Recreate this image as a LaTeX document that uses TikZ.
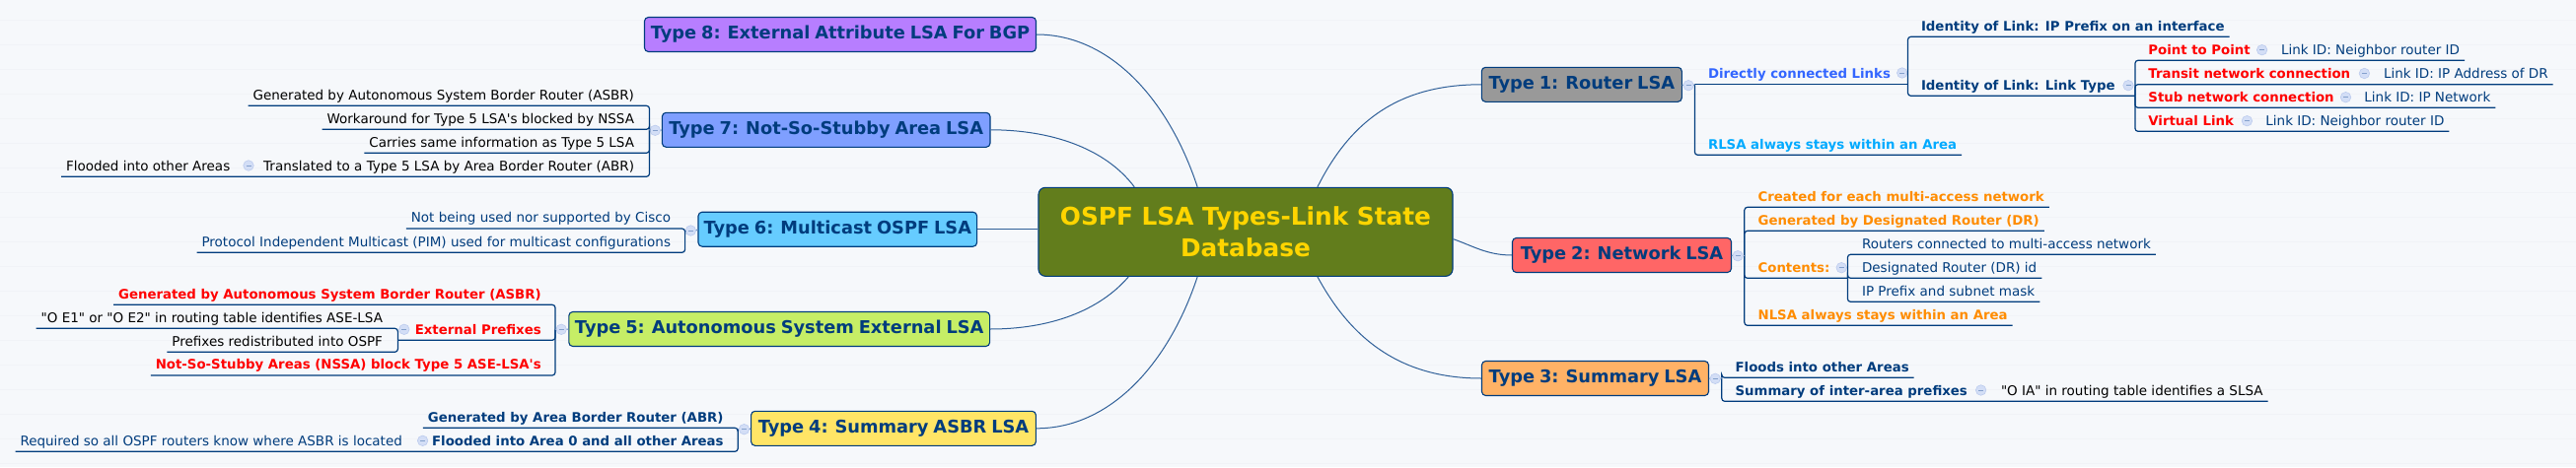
\documentclass[tikz,border=0pt]{standalone}
\usepackage{fontspec}
\usepackage{tikz}
\setmainfont{DejaVu Sans}[Ligatures=TeXOff]
\definecolor{pagebg}{HTML}{F6F8FB}
\definecolor{pageline}{HTML}{F1F3F7}
\definecolor{navy}{HTML}{003C7D}
\definecolor{curveblue}{HTML}{2F5F98}
\definecolor{foldfill}{HTML}{D3DEF6}
\definecolor{folddraw}{HTML}{BCCBEE}
\definecolor{rootgreen}{HTML}{627D1C}
\definecolor{rootyellow}{HTML}{FFD500}
\definecolor{linkblue}{HTML}{3366FF}
\definecolor{skyblue}{HTML}{00AAFF}
\definecolor{leaforange}{HTML}{FF8C00}
\definecolor{t8col}{HTML}{B77EFF}
\definecolor{t7col}{HTML}{7F9FFF}
\definecolor{t6col}{HTML}{66CCFF}
\definecolor{t5col}{HTML}{C6EE66}
\definecolor{t4col}{HTML}{FFE566}
\definecolor{t3col}{HTML}{FFB266}
\definecolor{t2col}{HTML}{FF6666}
\definecolor{t1col}{HTML}{999999}
\newcommand{\topicfont}{\fontsize{17.8}{21}\selectfont\bfseries\spaceskip 0.275em\relax}

\begin{document}
\begin{tikzpicture}[x=1pt, y=-1pt,
			topic/.style = {shape=rectangle, draw=navy, line width=1.1pt,
				rounded corners=4pt, minimum height=35pt, inner sep=0pt,
				text=navy, font=\topicfont},
			rootnode/.style = {shape=rectangle, draw=navy, line width=1.1pt,
				rounded corners=7pt, minimum width=420pt, minimum height=90pt,
				fill=rootgreen, align=center, text=rootyellow,
				font=\fontsize{24.8}{31.5}\selectfont\bfseries},
			leaf/.style = {shape=rectangle, inner xsep=5pt, inner ysep=0pt, outer sep=0pt,
				text height=12pt, text depth=6.3pt, font=\fontsize{13.5}{15}\selectfont},
			lleaf/.style = {leaf, anchor=south east},
			rleaf/.style = {leaf, anchor=south west},
			boldleaf/.style = {font=\fontsize{13.3}{15}\selectfont\bfseries},
			black leaf/.style = {text=black},
			navy leaf/.style = {text=navy},
			navy bold/.style = {boldleaf, text=navy},
			red bold/.style = {boldleaf, text=red},
			blue bold/.style = {boldleaf, text=linkblue},
			sky bold/.style = {boldleaf, text=skyblue},
			orange bold/.style = {boldleaf, text=leaforange},
			fold/.style = {shape=circle, minimum size=10.5pt, inner sep=0pt,
				draw=folddraw, line width=0.6pt, fill=foldfill,
				path picture={\draw[draw=folddraw!70!navy, line width=0.7pt] (-2.5,0) -- (2.5,0);}},
			branch/.style = {draw=navy, line width=1.2pt, rounded corners=3pt},
			stem/.style = {draw=folddraw!60!navy, line width=1pt},
			curve/.style = {draw=curveblue, line width=1pt}]

		\useasboundingbox (0,0) rectangle (2612,474);
		\fill[pagebg] (0,0) rectangle (2612,474);
		\foreach \y in {20,45,...,470}
			\draw[pageline, line width=0.8pt] (0,\y) -- (2612,\y);

		\node (root) [rootnode] at (1263,235.3) {OSPF LSA Types-Link State\\Database};

		\node (t8) [topic, fill=t8col, minimum width=397pt] at (852,35) {Type 8: External Attribute LSA For BGP};
		\node (t7) [topic, fill=t7col, minimum width=332.6pt] at (837.7,131.8) {Type 7: Not-So-Stubby Area LSA};
		\node (t6) [topic, fill=t6col, minimum width=282.6pt] at (849.3,232.7) {Type 6: Multicast OSPF LSA};
		\node (t5) [topic, fill=t5col, minimum width=426.8pt] at (790.2,334) {Type 5: Autonomous System External LSA};
		\node (t4) [topic, fill=t4col, minimum width=288.8pt] at (906,434.8) {Type 4: Summary ASBR LSA};
		\node (t1) [topic, fill=t1col, minimum width=203pt] at (1603.8,85.8) {Type 1: Router LSA};
		\node (t2) [topic, fill=t2col, minimum width=222pt] at (1644.5,259) {Type 2: Network LSA};
		\node (t3) [topic, fill=t3col, minimum width=230pt] at (1617.5,384) {Type 3: Summary LSA};

		\draw[curve] (t8.east) .. controls +(75,0) and +(-29,-88) .. (root.137);
		\draw[curve] (t7.east) .. controls +(60,0) and +(-30,-40) .. (root.158);
		\draw[curve] (t6.east) -- (root.west |- t6.east);
		\draw[curve] (t5.east) .. controls +(60,0) and +(-30,35) .. (root.201);
		\draw[curve] (t4.east) .. controls +(75,0) and +(-29,88) .. (root.223);
		\draw[curve] (t1.west) .. controls +(-80,0) and +(35,-70) .. (root.32);
		\draw[curve] (t2.west) .. controls +(-25,0) and +(20,7) .. (root.358);
		\draw[curve] (t3.west) .. controls +(-80,0) and +(35,65) .. (root.328);

		\node (g7a) [lleaf, black leaf] at (648,107.3) {Generated by Autonomous System Border Router (ASBR)};
		\node (g7b) [lleaf, black leaf] at (648,131.3) {Workaround for Type 5 LSA's blocked by NSSA};
		\node (g7c) [lleaf, black leaf] at (648,155.3) {Carries same information as Type 5 LSA};
		\node (g7d) [lleaf, black leaf] at (648,179.3) {Translated to a Type 5 LSA by Area Border Router (ABR)};
		\node (g7e) [rleaf, black leaf] at (62,179.3) {Flooded into other Areas};
		\node (f7) [fold] at (664.3,132.3) {};
		\node (f7d) [fold] at (252,168) {};
		\coordinate (j7) at (658.5,131.3);

		\node (g6a) [lleaf, navy leaf] at (685,232) {Not being used nor supported by Cisco};
		\node (g6b) [lleaf, navy leaf] at (685,256.3) {Protocol Independent Multicast (PIM) used for multicast configurations};
		\node (f6) [fold] at (700.4,234) {};
		\coordinate (j6) at (694.6,234);

		\node (g5a) [lleaf, red bold] at (553.7,309.3) {Generated by Autonomous System Border Router (ASBR)};
		\node (g5b) [lleaf, red bold] at (553.7,345.3) {External Prefixes};
		\node (g5c) [lleaf, red bold] at (553.7,381) {Not-So-Stubby Areas (NSSA) block Type 5 ASE-LSA's};
		\node (g5d) [lleaf, black leaf] at (393,333.3) {"O E1" or "O E2" in routing table identifies ASE-LSA};
		\node (g5e) [lleaf, black leaf] at (393,357.3) {Prefixes redistributed into OSPF};
		\node (f5) [fold] at (569.2,334.3) {};
		\node (f5b) [fold] at (409.8,334.3) {};
		\coordinate (j5) at (563,334.3);
		\coordinate (j5b) at (403.4,345.3);

		\node (g4a) [lleaf, navy bold] at (738.5,434.3) {Generated by Area Border Router (ABR)};
		\node (g4b) [lleaf, navy bold] at (738.5,458.3) {Flooded into Area 0 and all other Areas};
		\node (g4c) [rleaf, navy leaf] at (15.5,458.3) {Required so all OSPF routers know where ASBR is located};
		\node (f4) [fold] at (754.5,435.7) {};
		\node (f4b) [fold] at (428.6,447.3) {};
		\coordinate (j4) at (748.2,435.7);

		\node (g1a) [rleaf, blue bold] at (1727,85.3) {Directly connected Links};
		\node (g1b) [rleaf, sky bold] at (1727,157.3) {RLSA always stays within an Area};
		\node (g1c) [rleaf, navy bold] at (1943,37.3) {Identity of Link: IP Prefix on an interface};
		\node (g1d) [rleaf, navy bold] at (1943,97.3) {Identity of Link: Link Type};
		\node (g1e) [rleaf, red bold] at (2173.4,61.3) {Point to Point};
		\node (g1f) [rleaf, red bold] at (2173.4,85.7) {Transit network connection};
		\node (g1g) [rleaf, red bold] at (2173.4,109.3) {Stub network connection};
		\node (g1h) [rleaf, red bold] at (2173.4,133.3) {Virtual Link};
		\node (g1i) [rleaf, navy leaf] at (2308,61.3) {Link ID: Neighbor router ID};
		\node (g1j) [rleaf, navy leaf] at (2412,85.7) {Link ID: IP Address of DR};
		\node (g1k) [rleaf, navy leaf] at (2392.4,109.3) {Link ID: IP Network};
		\node (g1l) [rleaf, navy leaf] at (2292.4,133.3) {Link ID: Neighbor router ID};
		\node (f1) [fold] at (1712,86.7) {};
		\node (f1a) [fold] at (1928.7,74) {};
		\node (f1d) [fold] at (2158,86.7) {};
		\node (f1e) [fold] at (2293.6,50.7) {};
		\node (f1f) [fold] at (2397.4,74.5) {};
		\node (f1g) [fold] at (2378.5,98.7) {};
		\node (f1h) [fold] at (2278.4,122.7) {};
		\coordinate (j1) at (1718.4,85.3);
		\coordinate (j1b) at (1934.5,85.3);
		\coordinate (j1c) at (2164.9,97.3);

		\node (g2a) [rleaf, orange bold] at (1777.6,210.3) {Created for each multi-access network};
		\node (g2b) [rleaf, orange bold] at (1777.6,234.3) {Generated by Designated Router (DR)};
		\node (g2c) [rleaf, orange bold] at (1777.6,282.3) {Contents:};
		\node (g2d) [rleaf, orange bold] at (1777.6,330.3) {NLSA always stays within an Area};
		\node (g2e) [rleaf, navy leaf] at (1883,258.3) {Routers connected to multi-access network};
		\node (g2f) [rleaf, navy leaf] at (1883,282.3) {Designated Router (DR) id};
		\node (g2g) [rleaf, navy leaf] at (1883,306.3) {IP Prefix and subnet mask};
		\node (f2) [fold] at (1762.1,259.7) {};
		\node (f2c) [fold] at (1867.2,271.7) {};
		\coordinate (j2) at (1768.8,259.7);
		\coordinate (j2b) at (1873.4,282.3);

		\node (g3a) [rleaf, navy bold] at (1754.6,383.3) {Floods into other Areas};
		\node (g3b) [rleaf, navy bold] at (1754.6,407.3) {Summary of inter-area prefixes};
		\node (g3c) [rleaf, black leaf] at (2024,407.3) {"O IA" in routing table identifies a SLSA};
		\node (f3) [fold] at (1739.2,384.3) {};
		\node (f3b) [fold] at (2008.6,396) {};
		\coordinate (j3) at (1745.8,383.3);

		\foreach \n/\j in {g7a/j7, g7b/j7, g7c/j7, g7e/j7, g6a/j6, g6b/j6,
				g5a/j5, g5c/j5, g5d/j5b, g5e/j5b, g4a/j4, g4c/j4}
			\draw[branch] (\n.south west) -| (\j);
		\foreach \n/\j in {g1b/j1, g1c/j1b, g1i/j1c, g1j/j1c, g1k/j1c, g1l/j1c,
				g2a/j2, g2b/j2, g2d/j2, g2e/j2b, g2f/j2b, g2g/j2b, g3a/j3, g3c/j3}
			\draw[branch] (\n.south east) -| (\j);
		\draw[branch] (j5b) -| (j5);
		\draw[branch] (j1b) -- (j1);
		\draw[branch] (j1c) -| (j1b);
		\draw[branch] (j2b) -| (j2);

		\draw[stem] (t7.west) -- (f7.east);
		\draw[stem] (f7.west) -- (j7);
		\draw[stem] (t6.west) -- (f6.east);
		\draw[stem] (f6.west) -- (j6);
		\draw[stem] (t5.west) -- (f5.east);
		\draw[stem] (f5.west) -- (j5);
		\draw[stem] (t4.west) -- (f4.east);
		\draw[stem] (f4.west) -- (j4);
		\draw[stem] (t1.east) -- (f1.west);
		\draw[stem] (f1.east) -- (j1);
		\draw[stem] (t2.east) -- (f2.west);
		\draw[stem] (f2.east) -- (j2);
		\draw[stem] (t3.east) -- (f3.west);
		\draw[stem] (f3.east) -- (j3);
\end{tikzpicture}
\end{document}
